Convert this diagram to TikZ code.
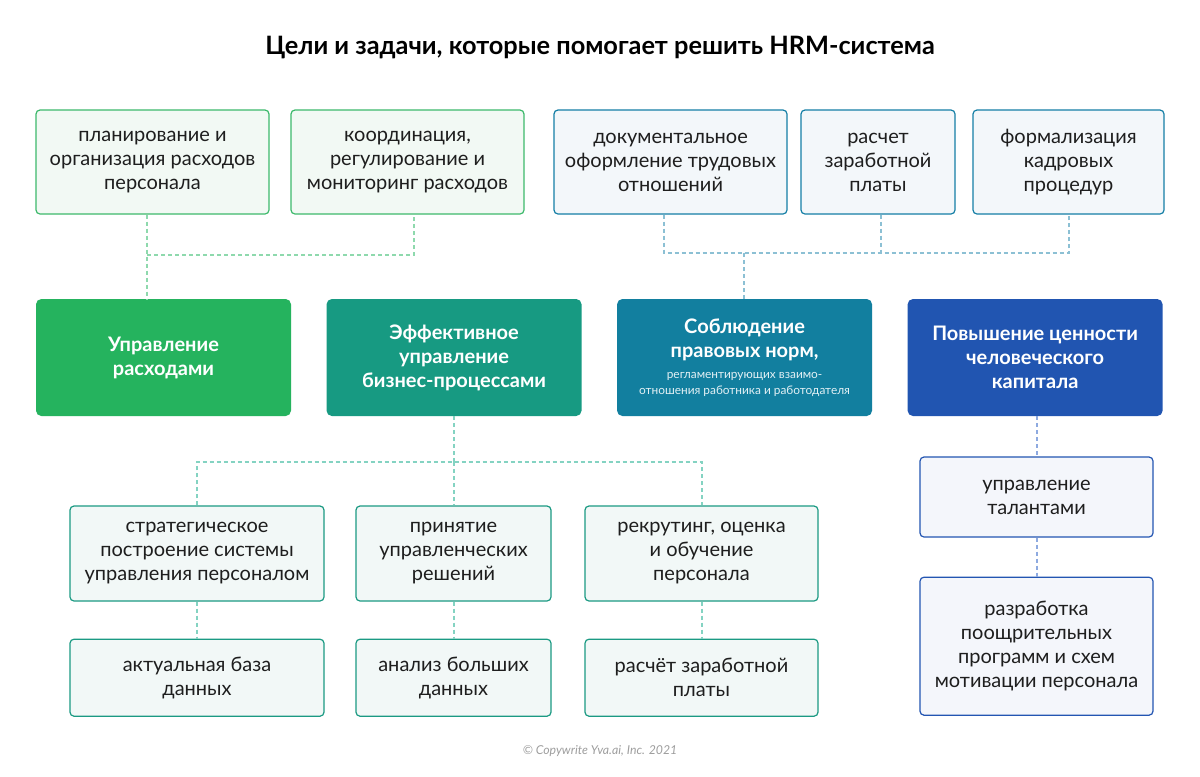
\documentclass[tikz,border=0pt]{standalone}
\usepackage{fontspec}
\setmainfont{Lato}
\usepackage{tikz}
\usetikzlibrary{positioning}

\definecolor{inkgray}{HTML}{1E1E1E}
\definecolor{costmain}{HTML}{25B35E}
\definecolor{costline}{HTML}{3DB96C}
\definecolor{costfill}{HTML}{F2F9F4}
\definecolor{costlink}{HTML}{8ED9AD}
\definecolor{procmain}{HTML}{179A82}
\definecolor{procline}{HTML}{1B9A83}
\definecolor{procfill}{HTML}{F2F8F7}
\definecolor{proclink}{HTML}{84D3C2}
\definecolor{lawmain}{HTML}{127F9F}
\definecolor{lawline}{HTML}{157FA6}
\definecolor{lawfill}{HTML}{F3F7FA}
\definecolor{lawlink}{HTML}{8CC0D4}
\definecolor{hummain}{HTML}{2155B1}
\definecolor{humline}{HTML}{2355B2}
\definecolor{humfill}{HTML}{F4F6FB}
\definecolor{humlink}{HTML}{8EAAE0}
\newcommand\lawnote{\mdseries\fontsize{8.9}{10.5}\selectfont\color{white!88!lawmain}}

\begin{document}
\begin{tikzpicture}
    [ x = .75pt, y = -.75pt
    , task/.style =
      { draw, rounded corners=3pt, line width=.9pt, align=center, text=inkgray
      , font=\fontsize{15}{18}\selectfont, inner sep=2pt }
    , costtask/.style =
      { task, draw=costline, fill=costfill, minimum width=174.75pt, minimum height=78pt }
    , lawtask/.style =
      { task, draw=lawline, fill=lawfill, minimum height=78pt }
    , proctask/.style =
      { task, draw=procline, fill=procfill }
    , humtask/.style =
      { task, draw=humline, fill=humfill, minimum width=174.75pt }
    , goal/.style =
      { rounded corners=4pt, align=center, text=white
      , font=\bfseries\fontsize{15}{18}\selectfont
      , minimum width=191.25pt, minimum height=87.75pt }
    , link/.style =
      { line width=1.5pt, dash pattern=on 3pt off 2.25pt }
    ]
    \fill [white] (0,0) rectangle (1200,776);
    \useasboundingbox (0,0) rectangle (1200,776);

    \node (title) at (600,48) [font=\bfseries\fontsize{19}{22}\selectfont, text=black]
      {Цели и задачи, которые помогает решить HRM-система};

    \node [goal,fill=costmain] (M1) at (163.5,357.5) {Управление\\расходами};
    \node [goal,fill=procmain] (M2) [right=26.25pt of M1] {Эффективное\\управление\\бизнес-процессами};
    \node [goal,fill=lawmain] (M3) [right=26.25pt of M2]
      {Соблюдение\\правовых норм,\\[-2pt]\lawnote регламентирующих взаимо-\\[-6pt]\lawnote отношения работника и работодателя};
    \node [goal,fill=hummain] (M4) [right=26.25pt of M3] {Повышение ценности\\человеческого\\капитала};

    \node [costtask] (A1) at (152.5,162) {планирование и\\организация расходов\\персонала};
    \node [costtask] (A2) at (407.5,162) {координация,\\регулирование и\\мониторинг расходов};
    \node [lawtask,minimum width=174.75pt] (B1) at (670.5,162) {документальное\\оформление трудовых\\отношений};
    \node [lawtask,minimum width=115.5pt] (B2) at (878,162) {расчет\\заработной\\платы};
    \node [lawtask,minimum width=143.25pt] (B3) at (1068.5,162) {формализация\\кадровых\\процедур};

    \node [proctask,minimum width=190.5pt,minimum height=71.25pt] (C1) at (197,553.5) {стратегическое\\построение системы\\управления персоналом};
    \node [proctask,minimum width=146.25pt,minimum height=71.25pt] (C2) at (453.5,553.5) {принятие\\управленческих\\решений};
    \node [proctask,minimum width=174.75pt,minimum height=71.25pt] (C3) at (701.5,553.5) {рекрутинг, оценка\\и обучение\\персонала};
    \node [proctask,minimum width=190.5pt,minimum height=57.75pt] (D1) [below=27.75pt of C1] {актуальная база\\данных};
    \node [proctask,minimum width=146.25pt,minimum height=57.75pt] (D2) [below=27.75pt of C2] {анализ больших\\данных};
    \node [proctask,minimum width=174.75pt,minimum height=57.75pt] (D3) [below=27.75pt of C3] {расчёт заработной\\платы};

    \node [humtask,minimum height=60pt] (R1) at (1036.5,497) {управление\\талантами};
    \node [humtask,minimum height=103.5pt] (R2) [below=29.25pt of R1] {разработка\\поощрительных\\программ и схем\\мотивации персонала};

    \node (copy) at (600,751) [font=\itshape\fontsize{9.2}{11}\selectfont, text=black!38]
      {© Copywrite Yva.ai, Inc. 2021};

    \coordinate (gL) at (147,255);
    \coordinate (gR) at (414,255);
    \draw [link,costlink] (A1.south -| gL) -- (M1.north -| gL);
    \draw [link,costlink] (gL) -| (A2.south -| gR);

    \coordinate (b1) at (664,253);
    \coordinate (b2) at (881,253);
    \coordinate (b3) at (1069,253);
    \coordinate (bJ) at (744,253);
    \draw [link,lawlink] (B1.south -| b1) -- (b1) -- (b3) -- (B3.south -| b3);
    \draw [link,lawlink] (B2.south -| b2) -- (b2);
    \draw [link,lawlink] (bJ) -- (M3.north -| bJ);

    \coordinate (cJ) at (454,462);
    \draw [link,proclink] (M2.south -| cJ) -- (cJ);
    \draw [link,proclink] (C1.north) |- (cJ) -| (C3.north);
    \draw [link,proclink] (cJ) -- (C2.north -| cJ);
    \draw [link,proclink] (C1) -- (D1);
    \draw [link,proclink] (C2) -- (D2);
    \draw [link,proclink] (C3) -- (D3);

    \draw [link,humlink] (M4.south -| R1) -- (R1);
    \draw [link,humlink] (R1) -- (R2);
  \end{tikzpicture}
\end{document}
